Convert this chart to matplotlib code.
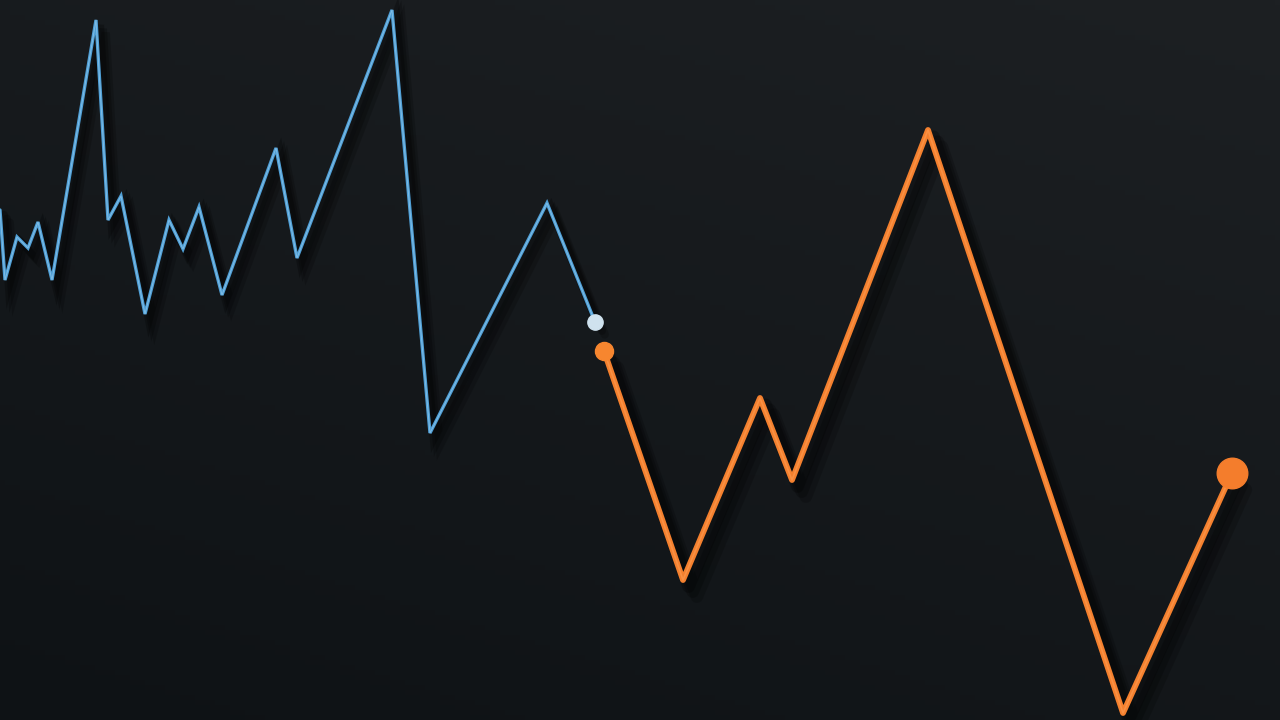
import numpy as np
import matplotlib
matplotlib.use("Agg")
import matplotlib.pyplot as plt
import matplotlib.patheffects as pe

# blue series (left part)
blue_x = [0, 5, 17, 28, 38, 52, 96, 108, 121, 145, 169, 183, 199, 222,
          276, 297, 392, 430, 547, 595]
blue_y = [510, 440, 483, 472, 498, 440, 700, 500, 524, 406, 500, 471,
          513, 425, 572, 462, 710, 287, 517, 398]

# orange series (right part)
orange_x = [604, 683, 760, 792, 928, 1123, 1232]
orange_y = [369, 140, 322, 240, 590, 7, 247]

fig = plt.figure(figsize=(12.8, 7.2), dpi=100)
fig.patch.set_facecolor('#15191c')
ax = fig.add_axes([0, 0, 1, 1])
ax.set_xlim(0, 1280)
ax.set_ylim(0, 720)
ax.axis('off')

# soft background gradient, darker bottom-left
gx = np.linspace(0, 1, 256)
gy = np.linspace(0, 1, 144)
GX, GY = np.meshgrid(gx, gy)
shade = 0.35 * GX + 0.65 * GY
bg = np.zeros((144, 256, 3))
c0 = np.array([0x0e, 0x12, 0x15]) / 255
c1 = np.array([0x1d, 0x20, 0x23]) / 255
for i in range(3):
    bg[:, :, i] = c0[i] + (c1[i] - c0[i]) * shade
ax.imshow(bg, extent=[0, 1280, 0, 720], origin='lower', aspect='auto', zorder=0)


def shadow_fx(off, lw_extra):
    fx = []
    for k, a in [(1.0, 0.18), (0.7, 0.22), (0.4, 0.25)]:
        fx.append(pe.SimpleLineShadow(offset=(off[0] * k, off[1] * k),
                                      shadow_color='black', alpha=a,
                                      linewidth=lw_extra))
    fx.append(pe.Normal())
    return fx


ax.plot(blue_x, blue_y, color='#4f9fd6', lw=2.4, solid_joinstyle='miter',
        solid_capstyle='round', zorder=3,
        path_effects=shadow_fx((7, -9), 6))
ax.plot(blue_x, blue_y, color='#9fd0f0', lw=0.7, alpha=0.6, zorder=4)
ax.plot(blue_x[-1:], blue_y[-1:], 'o', color='#cfe2ee', ms=11, zorder=5)

ax.plot(orange_x, orange_y, color='#f4802e', lw=4.2, solid_joinstyle='round',
        solid_capstyle='round', zorder=3,
        path_effects=shadow_fx((10, -12), 9))
ax.plot(orange_x, orange_y, color='#ffa25a', lw=1.2, alpha=0.5, zorder=4)
ax.plot(orange_x[:1], orange_y[:1], 'o', color='#f7862f', ms=13, zorder=5)
ax.plot(orange_x[-1:], orange_y[-1:], 'o', color='#f47d2c', ms=22, zorder=5)

fig.savefig('out.png', dpi=100, facecolor=fig.get_facecolor())
